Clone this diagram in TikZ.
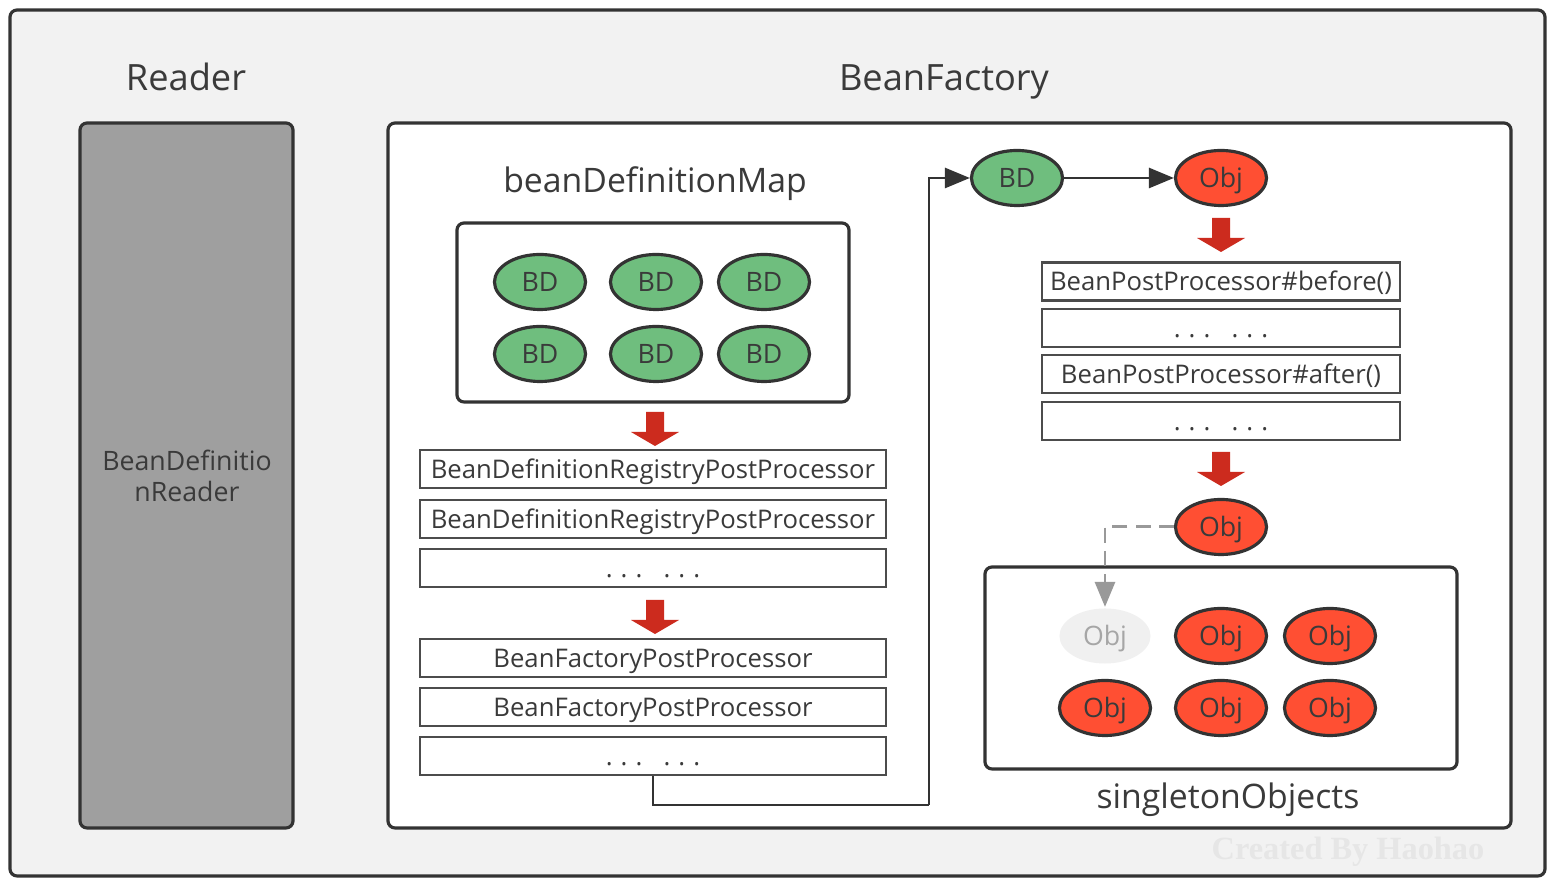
\documentclass[tikz,border=0pt]{standalone}
\usepackage{fontspec}
\setmainfont{Open Sans}
\newfontfamily\markfont{Liberation Serif}
\usetikzlibrary{arrows.meta,shapes.geometric}

\definecolor{bggray}{HTML}{F2F2F2}
\definecolor{readergray}{HTML}{9F9F9F}
\definecolor{edgegray}{HTML}{333333}
\definecolor{bdgreen}{HTML}{6FBE7E}
\definecolor{objred}{HTML}{FF4F33}
\definecolor{flowred}{HTML}{CC2B1E}
\definecolor{txtgray}{HTML}{3A3A3A}
\definecolor{markgray}{HTML}{E6E6E6}

\newcommand{\moredots}{.\hspace{2.3pt}.\hspace{2.3pt}.\hspace{6pt}.\hspace{2.3pt}.\hspace{2.3pt}.}

\tikzset{
  frame/.style={draw=edgegray,line width=0.9pt,rounded corners=2pt},
  title/.style={anchor=base,font=\fontsize{10.3}{12}\selectfont,text=txtgray},
  subtitle/.style={title,font=\fontsize{9.6}{12}\selectfont},
  bean/.style={ellipse,draw=edgegray,line width=0.9pt,fill=bdgreen,minimum width=0.91cm,minimum height=0.55cm,inner sep=0pt,text height=5.4pt,text depth=0pt,text=txtgray,font=\fontsize{7.6}{9}\selectfont},
  obj/.style={bean,fill=objred},
  ghostobj/.style={bean,draw=none,fill=black!6,text=black!35},
  procbox/.style={draw=black!70,line width=0.6pt,minimum height=0.38cm,inner sep=0pt,text height=5.2pt,text depth=0pt,text=txtgray,font=\fontsize{7.3}{9}\selectfont},
  link/.style={draw=edgegray,line width=0.8pt,-{Triangle[length=0.25cm,width=0.2cm]}}
}

\begin{document}
\begin{tikzpicture}[x=0.01cm,y=-0.01cm]
\useasboundingbox (0,0) rectangle (1547,883);
\fill[white] (0,0) rectangle (1547,883);

% outer frames
\draw[frame,fill=bggray] (10,10) rectangle (1545,876);
\node[title] (readerTitle) at (186,91) {Reader};
\node[title] (factoryTitle) at (944,91) {BeanFactory};
\draw[frame,fill=readergray] (80,123) rectangle (293,828);
\node[align=center,text=txtgray,font=\fontsize{7.6}{8.8}\selectfont] (reader) at (187,476) {BeanDefinitio\\nReader};
\draw[frame,fill=white] (388,123) rectangle (1511,828);
\node[text=markgray,font=\markfont\bfseries\fontsize{9.2}{10}\selectfont] (mark) at (1348,852) {Created By Haohao};

% beanDefinitionMap
\node[subtitle] (mapTitle) at (655,193) {beanDefinitionMap};
\draw[frame] (457,223) rectangle (849,402);
\foreach \x/\c in {540/a,656/b,764/c}{
  \node[bean] (bd1\c) at (\x,282) {BD};
  \node[bean] (bd2\c) at (\x,354) {BD};
}

% post processors
\node[procbox,minimum width=4.66cm] (lf1) at (653,469) {BeanDefinitionRegistryPostProcessor};
\node[procbox,minimum width=4.66cm] (lf2) at (653,519) {BeanDefinitionRegistryPostProcessor};
\node[procbox,minimum width=4.66cm] (lf3) at (653,568) {\moredots};
\node[procbox,minimum width=4.66cm] (lf4) at (653,658) {BeanFactoryPostProcessor};
\node[procbox,minimum width=4.66cm] (lf5) at (653,707) {BeanFactoryPostProcessor};
\node[procbox,minimum width=4.66cm] (lf6) at (653,756) {\moredots};

% red flow arrows
\foreach \x/\y in {655/412,655/600,1221/218,1221/452}{
  \fill[flowred] (\x-9,\y) -- (\x+9,\y) -- (\x+9,\y+20) -- (\x+24,\y+20)
    -- (\x,\y+34) -- (\x-24,\y+20) -- (\x-9,\y+20) -- cycle;
}

% bean creation
\node[bean] (bdTop) at (1017,178) {BD};
\node[obj] (objTop) at (1221,178) {Obj};
\coordinate (turn) at (929,805);
\draw[link,-] (lf6.south) |- (turn);
\draw[link] (turn) |- (bdTop.west);
\draw[link] (bdTop) -- (objTop);

\node[procbox,minimum width=3.58cm] (rt1) at (1221,281.5) {BeanPostProcessor\#before()};
\node[procbox,minimum width=3.58cm] (rt2) at (1221,328) {\moredots};
\node[procbox,minimum width=3.58cm] (rt3) at (1221,374) {BeanPostProcessor\#after()};
\node[procbox,minimum width=3.58cm] (rt4) at (1221,421) {\moredots};

\node[obj] (objDone) at (1221,527) {Obj};

% singletonObjects
\draw[frame] (985,567) rectangle (1457,769);
\node[subtitle] (poolTitle) at (1228,809) {singletonObjects};
\node[ghostobj] (ghost) at (1105,636) {Obj};
\node[obj] (obj1b) at (1221,636) {Obj};
\node[obj] (obj1c) at (1330,636) {Obj};
\node[obj] (obj2a) at (1105,708) {Obj};
\node[obj] (obj2b) at (1221,708) {Obj};
\node[obj] (obj2c) at (1330,708) {Obj};
\draw[link,draw=black!40,line width=0.85pt,dash pattern=on 4.3pt off 2.3pt] (objDone.west) -| (ghost.north);
\end{tikzpicture}
\end{document}
